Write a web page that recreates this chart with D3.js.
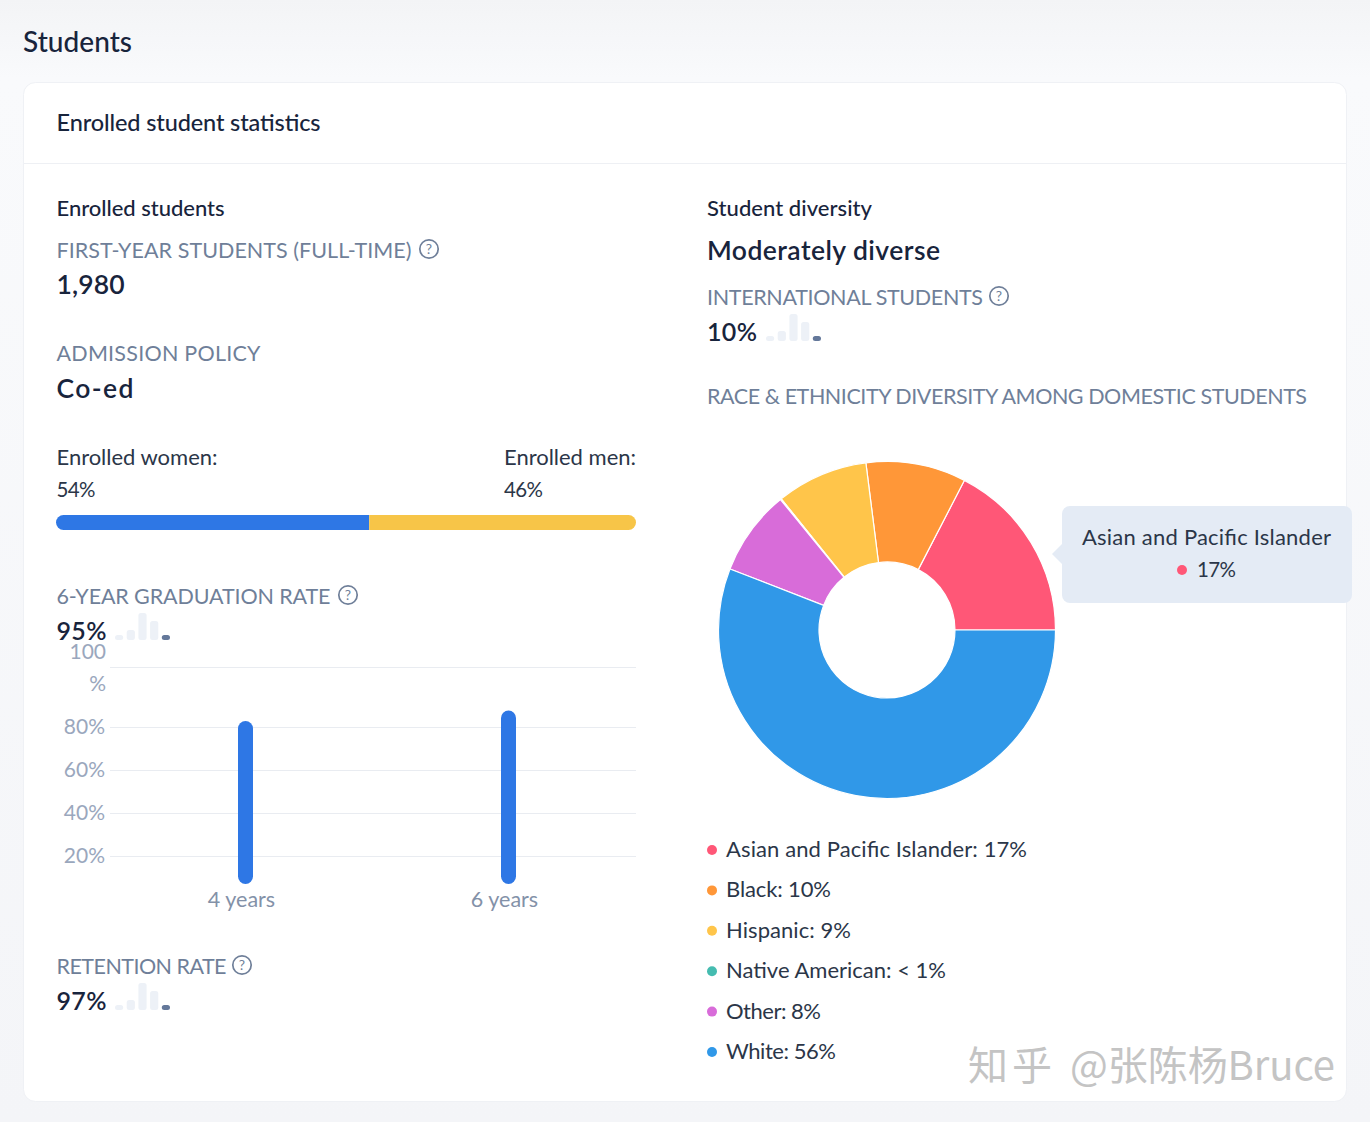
<!DOCTYPE html>
<html>
<head>
<meta charset="utf-8">
<title>Students</title>
<script src="https://cdn.jsdelivr.net/npm/d3@7"></script>
<style>
  html, body { margin: 0; padding: 0; background: #f6f7fa; overflow: hidden; }
  svg { display: block; }
  text { font-family: Lato, "Noto Sans", sans-serif; }
  .dark { fill: #18243c; }
  .h1 { font-size: 28px; font-weight: 500; }
  .h2 { font-size: 23.5px; font-weight: 500; }
  .h3 { font-size: 22px; font-weight: 500; }
  .caps { font-size: 21.5px; fill: #6f7f99; }
  .big { font-size: 26.5px; font-weight: 600; fill: #18243c; }
  .pct { font-size: 25px; font-weight: 600; fill: #18243c; }
  .body { font-size: 22px; fill: #2b3648; }
  .small { font-size: 20.5px; fill: #2b3648; }
  .tick { font-size: 21px; fill: #9aa7bd; }
  .xlab { font-size: 21.5px; fill: #8391a8; }
</style>
</head>
<body>
<div id="chart"></div>
<script>
// values
var genderLabels = ["Enrolled women:", "Enrolled men:"];
var genderValues = [54, 46];

var gradCategories = ["4 years", "6 years"];
var gradValues = [82, 85.5];
var gradTicks = [20, 40, 60, 80, 100];

var raceNames = ["Asian and Pacific Islander", "Black", "Hispanic", "Native American", "Other", "White"];
var raceValues = [17.4, 9.6, 8.8, 0.1, 8.2, 55.9];
var raceLabels = ["17%", "10%", "9%", "< 1%", "8%", "56%"];
var raceColors = ["#ff5777", "#ff9738", "#ffc54a", "#45bcb0", "#d86cd9", "#3098e8"];

var sparkValues = [1.5, 3, 8, 5.6, 1.5];

var svg = d3.select("#chart").append("svg").attr("width", 1370).attr("height", 1122);

var defs = svg.append("defs");
var bgGrad = defs.append("linearGradient").attr("id", "bg").attr("x1", 0).attr("x2", 0).attr("y1", 0).attr("y2", 1);
bgGrad.append("stop").attr("offset", "0").attr("stop-color", "#f3f4f6");
bgGrad.append("stop").attr("offset", "0.07").attr("stop-color", "#f9fafc");
bgGrad.append("stop").attr("offset", "1").attr("stop-color", "#f4f5f8");

svg.append("rect").attr("width", 1370).attr("height", 1122).attr("fill", "url(#bg)");

// w stretches the text to the width it has in the reference
function label(x, y, str, cls, w, anchor) {
    var t = svg.append("text").attr("x", x).attr("y", y).attr("class", cls)
        .attr("text-anchor", anchor || "start").text(str);
    if (w) t.attr("textLength", w).attr("lengthAdjust", "spacing");
    return t;
}

// card
svg.append("rect").attr("x", 23.5).attr("y", 82.5).attr("width", 1323).attr("height", 1019)
    .attr("rx", 12).attr("fill", "#fff").attr("stroke", "#eff1f5");
svg.append("line").attr("x1", 24).attr("x2", 1346).attr("y1", 163.5).attr("y2", 163.5).attr("stroke", "#eef0f4");

label(23, 52, "Students", "h1 dark", 109);
label(56.5, 131, "Enrolled student statistics", "h2 dark", 264);

// question mark icon after a caps label
function helpIcon(cx, cy) {
    svg.append("circle").attr("cx", cx).attr("cy", cy).attr("r", 9.2).attr("fill", "none")
        .attr("stroke", "#6f7f99").attr("stroke-width", 1.7);
    svg.append("text").attr("x", cx).attr("y", cy + 5).attr("text-anchor", "middle")
        .attr("font-size", 14).attr("fill", "#6f7f99").text("?");
}

// little bar glyph next to a percentage
function spark(x0, baseline) {
    var x = d3.scaleBand().domain(d3.range(sparkValues.length)).range([x0, x0 + 62]).padding(0.3);
    var y = d3.scaleLinear().domain([0, 8]).range([baseline, baseline - 27]);
    svg.append("g").selectAll("rect").data(sparkValues).join("rect")
        .attr("x", function (d, i) { return x(i); })
        .attr("y", function (d) { return y(d); })
        .attr("width", x.bandwidth())
        .attr("height", function (d) { return baseline - y(d); })
        .attr("rx", 2.5)
        .attr("fill", function (d, i) { return i == sparkValues.length - 1 ? "#64789a" : "#edf1f7"; });
}

// left column
label(56.5, 216, "Enrolled students", "h3 dark", 168);
label(56.5, 258, "FIRST-YEAR STUDENTS (FULL-TIME)", "caps", 355);
helpIcon(429, 249);
label(56.5, 294, "1,980", "big", 68);
label(56.5, 361, "ADMISSION POLICY", "caps", 204);
label(56.5, 398, "Co-ed", "big", 77);

// women / men
var genderX = d3.scaleLinear().domain([0, 100]).range([56, 636]);
label(56.5, 465, genderLabels[0], "body", 161);
label(56.5, 497, genderValues[0] + "%", "small", 39);
label(504, 465, genderLabels[1], "body", 132);
label(504, 497, genderValues[1] + "%", "small", 39);

defs.append("clipPath").attr("id", "genderClip").append("rect")
    .attr("x", genderX(0)).attr("y", 515).attr("width", genderX(100) - genderX(0)).attr("height", 15).attr("rx", 7.5);
svg.append("g").attr("clip-path", "url(#genderClip)").selectAll("rect")
    .data(d3.stack().keys([0, 1])([genderValues])).join("rect")
    .attr("x", function (d) { return genderX(d[0][0]); })
    .attr("width", function (d) { return genderX(d[0][1]) - genderX(d[0][0]); })
    .attr("y", 515).attr("height", 15)
    .attr("fill", function (d, i) { return ["#2e77e5", "#f7c548"][i]; });

// graduation
label(56.5, 604, "6-YEAR GRADUATION RATE", "caps", 274);
helpIcon(348, 595);
label(56.5, 640, "95%", "pct", 50);
spark(111.5, 640);

var gradY = d3.scaleLinear().domain([0, 20, 40, 60, 80, 100]).range([884, 856, 813, 770, 727, 667]);
var gradX = d3.scaleBand().domain(gradCategories).range([110, 636]);

var gridG = svg.append("g").attr("transform", "translate(110,0)")
    .call(d3.axisLeft(gradY).tickValues(gradTicks).tickSize(-526).tickPadding(5).tickFormat(function (d) {
        return d + "%";
    }));
gridG.select(".domain").remove();
gridG.selectAll(".tick line").attr("stroke", "#e9ecf1");
gridG.selectAll(".tick text").attr("class", "tick").attr("fill", null).attr("font-size", null);
// the 100% label wraps in the original
gridG.selectAll(".tick").filter(function (d) { return d == 100; }).select("text")
    .text(null).call(function (t) {
        t.append("tspan").attr("x", -4).attr("y", -15).text("100");
        t.append("tspan").attr("x", -4).attr("y", 23).text("%");
    });

var xG = svg.append("g").attr("transform", "translate(0,885)")
    .call(d3.axisBottom(gradX).tickSize(0).tickPadding(7));
xG.select(".domain").remove();
xG.selectAll(".tick text").attr("class", "xlab").attr("fill", null).attr("font-size", null);

svg.append("g").selectAll("rect").data(gradValues).join("rect")
    .attr("x", function (d, i) { return gradX(gradCategories[i]) + gradX.bandwidth() / 2 - 3.5; })
    .attr("y", function (d) { return gradY(d); })
    .attr("width", 15)
    .attr("height", function (d) { return gradY(0) - gradY(d); })
    .attr("rx", 7.5)
    .attr("fill", "#2e77e5");

label(56.5, 974, "RETENTION RATE", "caps", 170);
helpIcon(242, 965);
label(56.5, 1010, "97%", "pct", 50);
spark(111.5, 1010);

// right column
label(707, 216, "Student diversity", "h3 dark", 165);
label(707, 260, "Moderately diverse", "big", 233);
label(707, 305, "INTERNATIONAL STUDENTS", "caps", 276);
helpIcon(999, 296);
label(707, 341, "10%", "pct", 50);
spark(762.5, 341);
label(707, 404, "RACE & ETHNICITY DIVERSITY AMONG DOMESTIC STUDENTS", "caps", 600);

// donut, runs counter clockwise from 3 o'clock
var pie = d3.pie().sort(null).startAngle(Math.PI / 2).endAngle(Math.PI / 2 - 2 * Math.PI);
var arc = d3.arc().innerRadius(68).outerRadius(168.5);
svg.append("g").attr("transform", "translate(887,630)")
    .selectAll("path").data(pie(raceValues)).join("path")
    .attr("d", arc)
    .attr("fill", function (d, i) { return raceColors[i]; })
    .attr("stroke", "#fff").attr("stroke-width", 1.2);

// tooltip
svg.append("path").attr("d", d3.line()([[1062, 544], [1052, 554], [1062, 564]])).attr("fill", "#e4ebf5");
svg.append("rect").attr("x", 1062).attr("y", 506).attr("width", 290).attr("height", 97).attr("rx", 8).attr("fill", "#e4ebf5");
label(1082, 545, raceNames[0], "body", 249);
svg.append("circle").attr("cx", 1182).attr("cy", 570).attr("r", 5).attr("fill", raceColors[0]);
label(1197, 577, raceLabels[0], "small", 39);

// legend
var legendY = d3.scalePoint().domain(raceNames).range([850, 1052]);
var legendWidths = [301, 105, 125, 220, 95, 110];
var legend = svg.append("g").selectAll("g").data(raceNames).join("g")
    .attr("transform", function (d) { return "translate(0," + legendY(d) + ")"; });
legend.append("circle").attr("cx", 712).attr("r", 5).attr("fill", function (d, i) { return raceColors[i]; });
legend.append("text").attr("x", 726).attr("y", 7).attr("class", "body")
    .attr("textLength", function (d, i) { return legendWidths[i]; })
    .text(function (d, i) { return d + ": " + raceLabels[i]; });

// watermark
function mark(x, y, str, w) {
    svg.append("text").attr("x", x).attr("y", y).attr("font-size", 40).attr("fill", "#c4c4c4")
        .attr("textLength", w)
        .style("font-family", '"Noto Sans CJK SC"').text(str);
}
mark(968, 1080, "知乎", 84);
mark(1070, 1080, "@张陈杨Bruce", 265);
</script>
</body>
</html>
